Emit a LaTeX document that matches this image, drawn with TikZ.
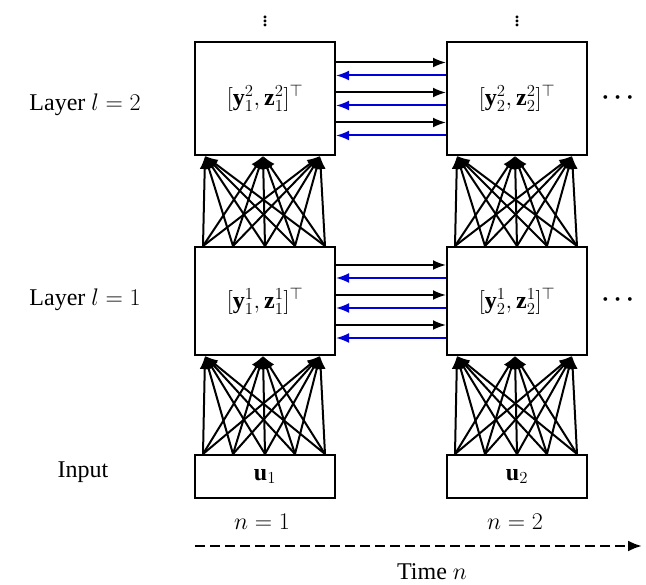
\RequirePackage{fix-cm}
\documentclass[tikz,border=0pt]{standalone}
\usepackage{amsmath,amssymb}
\usepackage{fontspec}
\setmainfont{Liberation Serif}
\usetikzlibrary{arrows.meta}
\tikzset{
	blk/.style={draw, line width=2pt, minimum width=140pt, minimum height=#1, inner sep=0pt},
	fw/.style={-{Latex[length=13pt,width=10pt]}, line width=2pt},
	bw/.style={-{Latex[length=13pt,width=10pt]}, line width=2pt, blue!85!black},
	lbl/.style={font=\fontsize{24}{28}\selectfont}
}
\begin{document}
\begin{tikzpicture}[x=1pt, y=-1pt, lbl]
	\useasboundingbox (0,0) rectangle (646,585);
	\foreach \c/\xx in {1/265, 2/517} {
		\node [blk=113pt] (L2\c) at (\xx,98.5) {$[\mathbf{y}_{\c}^{2}, \mathbf{z}_{\c}^{2}]^{\top}$};
		\node [blk=108pt] (L1\c) at (\xx,301) {$[\mathbf{y}_{\c}^{1}, \mathbf{z}_{\c}^{1}]^{\top}$};
		\node [blk=43pt] (U\c) at (\xx,476.5) {$\mathbf{u}_{\c}$};
		\node [inner sep=0pt] (vd\c) at (\xx,18) {$\boldsymbol{\vdots}$};
		% fully connected arrows
		\foreach \s in {-62,-32,0,30,60} {
			\foreach \t in {-60,-2,55} {
				\draw [fw] ([xshift=\s pt]L1\c.north) -- ([xshift=\t pt]L2\c.south);
				\draw [fw] ([xshift=\s pt]U\c.north) -- ([xshift=\t pt]L1\c.south);
			}
		}
	}
	% lateral connections
	\foreach \l in {2,1} {
		\foreach \k in {0,30,60} {
			\draw [fw] ([yshift=36-\k]L\l1.east) -- ([yshift=36-\k]L\l2.west);
			\draw [bw] ([yshift=23-\k]L\l2.west) -- ([yshift=23-\k]L\l1.east);
		}
	}
	\node (hd2) at (620,98) {$\boldsymbol{\cdots}$};
	\node (hd1) at (620,300) {$\boldsymbol{\cdots}$};
	\node (tl2) at (85,105) {Layer $l=2$};
	\node (tl1) at (85,300) {Layer $l=1$};
	\node (tin) at (83,472) {Input};
	\node (n1) at (262,522) {$n=1$};
	\node (n2) at (515,522) {$n=2$};
	\coordinate (t0) at (195,546);
	\coordinate (t1) at (642,546);
	\draw [-{Latex[length=14pt,width=11pt]}, line width=2.5pt, dash pattern=on 10pt off 5pt] (t0) -- (t1);
	\node (time) at (432,572) {Time $n$};
\end{tikzpicture}
\end{document}
